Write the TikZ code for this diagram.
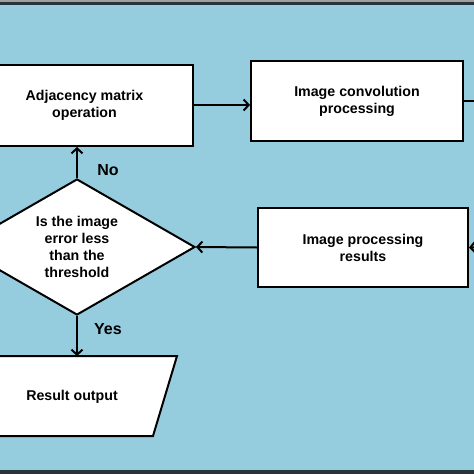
\documentclass[tikz,border=0pt]{standalone}
\usepackage{fontspec}
\setmainfont{Liberation Sans}
\usetikzlibrary{arrows.meta,shapes.geometric}
\definecolor{sky}{RGB}{149,205,223}
\definecolor{rim}{RGB}{40,52,58}
\def\lw{2pt}
\tikzset{
  stepbox/.style={draw, fill=white, line width=\lw, align=center, inner sep=0pt},
  decision/.style={draw, fill=white, line width=\lw, diamond, align=center, inner sep=0pt,
    aspect=1.735, minimum width=236pt, minimum height=136pt},
  flow/.style={line width=\lw, -{Straight Barb[length=5pt,width=11pt,line width=\lw]}},
  answer/.style={font=\fontsize{16}{19}\bfseries\selectfont}
}

\begin{document}
\begin{tikzpicture}[x=1pt, y=-1pt, font=\fontsize{14.2}{17}\bfseries\selectfont]
\useasboundingbox (0,0) rectangle (474,474);
\fill[gray!75] (0,0) rectangle (474,2);
\fill[rim] (0,2) rectangle (474,4.5);
\fill[sky] (0,4.5) rectangle (474,470);
\fill[rim] (0,470) rectangle (474,474);

\node[stepbox, minimum width=217pt, minimum height=81pt] (adj) at (84.5,105.5) {Adjacency matrix\\operation};
\node[stepbox, minimum width=212pt, minimum height=80pt] (conv) at (357,101) {Image convolution\\processing};
\node[stepbox, minimum width=210pt, minimum height=79pt] (res) at (363,247.5) {Image processing\\results};
\node[decision] (dec) at (77,247) {Is the image\\error less\\than the\\threshold};

% output shape
\coordinate (outtop) at (77,356);
\draw[line width=\lw, fill=white] (-9,356) -- (177,356) -- (153,436) -- (-33,436) -- cycle;
\node (out) at (72,397) {Result output};

\coordinate (right1) at (480,101);
\coordinate (right2) at (480,247);

\draw[flow] (adj.east |- 0,105) -- (conv.west |- 0,105);
\draw[line width=\lw] (conv.east) -- (right1);
\draw[flow] (right2) -- (res.east);
\draw[flow] (res.west) -- (dec.east);
\draw[flow] (dec.north) -- (adj.south -| dec.north);
\draw[flow] (dec.south) -- (outtop);
\node[answer] (no) at (108,170) {No};
\node[answer] (yes) at (108,329) {Yes};
\end{tikzpicture}
\end{document}
